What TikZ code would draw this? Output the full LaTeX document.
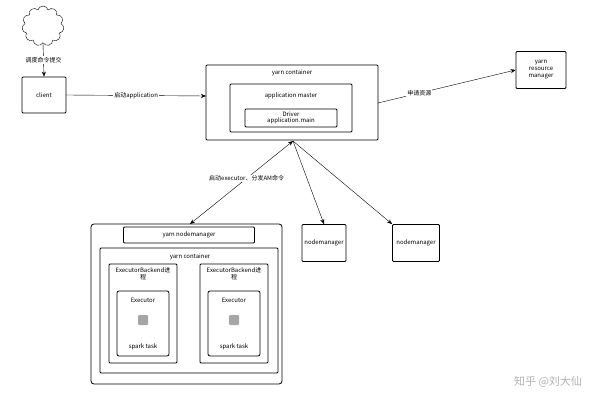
\documentclass[tikz,border=0pt]{standalone}
\usepackage{fontspec}
\setmainfont{Noto Sans CJK SC}
\usetikzlibrary{shapes.symbols,arrows.meta,positioning}
\begin{document}
\begin{tikzpicture}[x=1pt,y=-1pt,line cap=round,line join=round,>={Stealth[length=5pt,width=4pt]},
  every node/.style={font=\fontsize{6}{7}\selectfont},
  box/.style={draw,thick,rounded corners=1pt,inner sep=0pt},
  txt/.style={inner sep=1pt,fill=white}]
\useasboundingbox (0,0) rectangle (600,409);
% top part
\node[cloud,draw,cloud puffs=11,minimum width=42pt,minimum height=40pt] (cloud) at (43,26) {};
\node[box,minimum width=44pt,minimum height=36pt] (client) at (44,95) {client};
\draw[->] (cloud.south) -- node[txt]{调度命令提交} (client.north);
\draw[box] (206,65) rectangle (378,140);
\coordinate (ycl) at (206,96);
\coordinate (ycr) at (378,103);
\coordinate (ycb) at (293,141);
\node at (292,73) {yarn container};
\draw[box] (230,84) rectangle (352,132);
\node at (291,96) {application master};
\node[box,minimum width=92pt,minimum height=18pt,align=center,font=\fontsize{6}{6.5}\selectfont] (driver) at (291,118) {Driver\\application.main};
\node[box,minimum width=50pt,minimum height=37pt,align=center] (rm) at (541,70) {yarn\\resource\\manager};
\draw[->] (client.east) -- node[txt]{启动application} (ycl);
\draw[->] (ycr) -- node[txt,pos=0.3]{申请资源} (rm.west);
% nodemanagers
\node[box,minimum width=44pt,minimum height=37pt] (nm1) at (324,243) {nodemanager};
\node[box,minimum width=47pt,minimum height=37pt] (nm2) at (416,243) {nodemanager};
\draw[->] (ycb) -- (nm1.north);
\draw[->] (ycb) -- (nm2.north west);
% worker
\draw[box,rounded corners=3pt] (91,224) rectangle (282,384);
\node[box,minimum width=131pt,minimum height=16pt] (ynm) at (189,235) {yarn nodemanager};
\coordinate (ynmt) at (190,224);
\draw[<->] (ynmt) -- node[txt,pos=0.55]{启动executor、分发AM命令} (ycb);
\draw[box] (100,248) rectangle (278,373);
\node at (190,257) {yarn container};
\foreach \x/\n in {143/a,234/b}{
  \draw[box] (\x-34,264) rectangle (\x+34,363);
  \node[align=center,font=\fontsize{6}{6.5}\selectfont] at (\x,274) {ExecutorBackend进\\程};
  \draw[box,rounded corners=2pt] (\x-26,291) rectangle (\x+26,356);
  \node (exec\n) at (\x,300) {Executor};
  \node[fill=gray!70,minimum size=10pt,inner sep=0pt,rounded corners=1pt] (icon\n) at (\x,320) {};
  \node (task\n) at (\x,347) {spark task};
}
\node[font=\fontsize{11}{12}\selectfont,text=gray!60] (mark) at (548,382) {知乎 @刘大仙};
\end{tikzpicture}
\end{document}
